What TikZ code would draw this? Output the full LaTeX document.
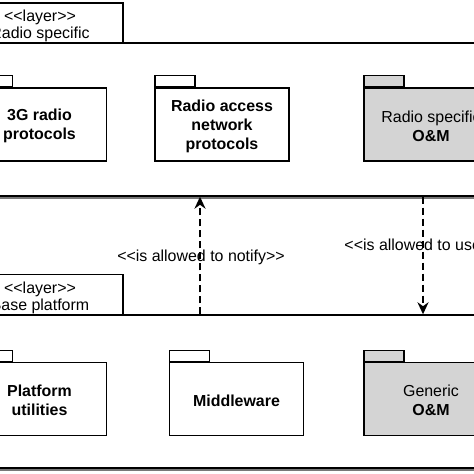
\documentclass[tikz,border=0pt]{standalone}
\usepackage{fontspec}
\setmainfont{Liberation Sans}
\usetikzlibrary{arrows.meta,shadows}
\definecolor{pkggray}{RGB}{212,212,212}
\definecolor{shadowgray}{RGB}{120,120,120}
\newcommand\dlt{<\kern0pt<}
\newcommand\dgt{>\kern0pt>}
\begin{document}
\begin{tikzpicture}[x=1bp,y=-1bp,
  font=\fontsize{16}{18}\selectfont,
  layerbody/.style={draw, line width=1.4bp, fill=white, minimum width=600bp, minimum height=153bp, inner sep=0pt,
    drop shadow={shadow xshift=3bp, shadow yshift=-3bp, fill=shadowgray, opacity=1}},
  laytab/.style={draw, line width=1.4bp, fill=white, minimum width=166bp, minimum height=40bp, inner sep=0pt},
  laytext/.style={inner sep=0pt, align=center, font=\fontsize{16}{17}\selectfont},
  pkg/.style={draw, line width=1.2bp, fill=white, minimum width=134bp, minimum height=73bp, inner sep=0pt},
  pkgtext/.style={inner sep=0pt, align=center, font=\fontsize{16}{19}\selectfont\bfseries},
  graypkg/.style={pkg, fill=pkggray},
  pkgtab/.style={draw, line width=1.2bp, minimum width=40bp, minimum height=11bp, inner sep=0pt, anchor=south west},
  dep/.style={line width=2bp, dash pattern=on 7bp off 4bp, -{Stealth[length=12bp,width=11bp]}},
  deplabel/.style={inner sep=0pt}]
\useasboundingbox (0,0) rectangle (474,474);
\clip (0,0) rectangle (474,474);

% upper layer
\node[layerbody] (L1) at (240,119.5) {};
\node[laytab] (T1) at (40,23) {};
\node[laytext] (T1x) at (40,26) {\dlt layer\dgt\\Radio specific};
% lower layer
\node[layerbody] (L2) at (240,391.5) {};
\node[laytab] (T2) at (40,294.5) {};
\node[laytext] (T2x) at (40,297.5) {\dlt layer\dgt\\Base platform};

% upper packages
\node[pkg] (P1) at (39.5,124.5) {};
\node[pkgtext] (P1x) at (39.5,126) {3G radio\\protocols};
\node[pkgtab] (P1t) at (P1.north west) {};
\node[pkg] (P2) at (222,124.5) {};
\node[pkgtext] (P2x) at (222,126.5) {Radio access\\network\\protocols};
\node[pkgtab] (P2t) at (P2.north west) {};
\node[graypkg] (P3) at (431,124.5) {};
\node[pkgtext] (P3x) at (431,126) {{\mdseries Radio specific}\\O\&M};
\node[pkgtab, fill=pkggray] (P3t) at (P3.north west) {};

% lower packages
\node[pkg] (Q1) at (39.5,399) {};
\node[pkgtext] (Q1x) at (39.5,400.5) {Platform\\utilities};
\node[pkgtab] (Q1t) at (Q1.north west) {};
\node[pkg] (Q2) at (236.5,399) {};
\node[pkgtext] (Q2x) at (236.5,400.5) {Middleware};
\node[pkgtab] (Q2t) at (Q2.north west) {};
\node[graypkg] (Q3) at (431,399) {};
\node[pkgtext] (Q3x) at (431,400.5) {{\mdseries Generic}\\O\&M};
\node[pkgtab, fill=pkggray] (Q3t) at (Q3.north west) {};

% dependencies
\coordinate (d1) at (200,0);
\coordinate (d2) at (423,0);
\draw[dep] (d1 |- L2.north) -- (d1 |- L1.south);
\draw[dep] (d2 |- L1.south) -- (d2 |- L2.north);
\node[deplabel] (lab1) at (201,257) {\dlt is allowed to notify\dgt};
\node[deplabel] (lab2) at (422,245) {\dlt is allowed to use\dgt};
\end{tikzpicture}
\end{document}
